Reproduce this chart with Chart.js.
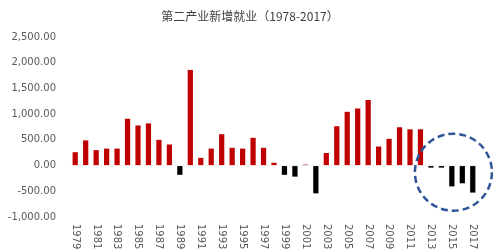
<!DOCTYPE html>
<html>
<head>
<meta charset="utf-8">
<script src="https://cdn.jsdelivr.net/npm/chart.js@4"></script>
<style>
  html, body { margin: 0; padding: 0; background: #fff; }
  #wrap { width: 500px; height: 252px; }
</style>
</head>
<body>
<div id="wrap"><canvas id="jobChart" width="500" height="252"></canvas></div>
<script>
// Data
const years = [];
for (let y = 1979; y <= 2017; y++) years.push(String(y));

const newJobs = [
    260, 490, 300, 330, 330, 910, 780, 820, 500, 410,
    -180, 1860, 150, 330, 610, 345, 330, 540, 345, 55,
    -180, -215, 20, -540, 245, 765, 1045, 1110, 1275, 370,
    520, 745, 705, 705, -40, -40, -405, -345, -525
];

const yTicks = [-1000, -500, 0, 500, 1000, 1500, 2000, 2500];
const titleText = '第二产业新增就业（1978-2017）';

const colors = {
    up: '#C00000',
    down: '#000000',
    text: '#595959',
    ring: '#2F5597'
};

// Title, rotated year labels and the dashed ring
const extras = {
    id: 'extras',
    afterDraw(chart) {
        const ctx = chart.ctx;
        const x = chart.scales.x;
        const y = chart.scales.y;

        ctx.save();
        ctx.fillStyle = '#404040';
        ctx.font = '12px "Noto Sans CJK SC", sans-serif';
        ctx.textAlign = 'center';
        ctx.textBaseline = 'middle';
        ctx.fillText(titleText, 250, 16);

        // year labels, every other year, reading top to bottom
        ctx.fillStyle = colors.text;
        ctx.font = '10px "DejaVu Sans", sans-serif';
        ctx.textAlign = 'left';
        ctx.textBaseline = 'middle';
        years.forEach((label, i) => {
            if (i % 2 !== 0) return;
            const px = x.getPixelForValue(i);
            ctx.save();
            ctx.translate(px, 224);
            ctx.rotate(Math.PI / 2);
            ctx.fillText(label, 0, 0);
            ctx.restore();
        });

        // dashed ring around the last years
        const cx = x.getPixelForValue(36.15);
        const cy = y.getPixelForValue(-130);
        ctx.strokeStyle = colors.ring;
        ctx.lineWidth = 2.5;
        ctx.setLineDash([7, 4]);
        ctx.beginPath();
        ctx.arc(cx, cy, 38.5, 0, Math.PI * 2);
        ctx.stroke();
        ctx.restore();
    }
};

new Chart(document.getElementById('jobChart'), {
    type: 'bar',
    data: {
        labels: years,
        datasets: [{
            data: newJobs,
            backgroundColor: newJobs.map(v => v >= 0 ? colors.up : colors.down),
            borderWidth: 0,
            categoryPercentage: 1,
            barPercentage: 0.5
        }]
    },
    options: {
        responsive: false,
        animation: false,
        events: [],
        layout: {
            padding: { top: 37, right: 22, bottom: 27, left: 0 }
        },
        plugins: {
            legend: { display: false },
            title: { display: false },
            tooltip: { enabled: false }
        },
        scales: {
            x: {
                grid: { display: false },
                border: { display: false },
                ticks: { display: false }
            },
            y: {
                min: -1000,
                max: 2500,
                afterFit(scale) { scale.width = 70; },
                afterBuildTicks(scale) {
                    scale.ticks = yTicks.map(v => ({ value: v }));
                },
                grid: {
                    drawTicks: false,
                    color: ctx => ctx.tick && ctx.tick.value === 0 ? '#f2f2f2' : 'rgba(0,0,0,0)'
                },
                border: { display: false },
                ticks: {
                    padding: 14,
                    color: colors.text,
                    font: { family: '"DejaVu Sans", sans-serif', size: 10 },
                    callback: v => v.toLocaleString('en-US', { minimumFractionDigits: 2, maximumFractionDigits: 2 })
                }
            }
        }
    },
    plugins: [extras]
});
</script>
</body>
</html>
